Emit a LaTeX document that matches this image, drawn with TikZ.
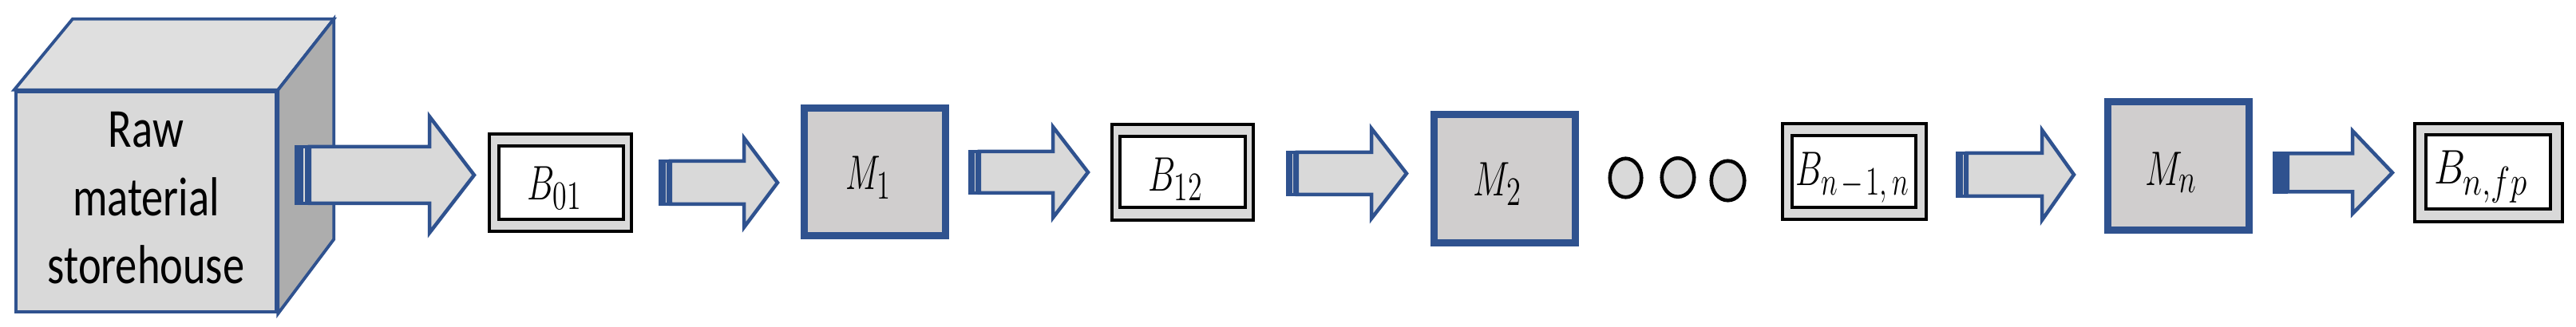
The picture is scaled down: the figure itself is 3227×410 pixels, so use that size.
\documentclass[tikz,border=0pt]{standalone}
\usepackage{fontspec}
\usepackage{graphicx}
\usetikzlibrary{shapes.geometric}
\newfontfamily\calib{Carlito}
\DeclareMathSizes{18.8}{18.8}{14}{11}
\definecolor{shapeblue}{HTML}{2F528F}
\definecolor{arrowfill}{HTML}{D9D9D9}
\definecolor{machfill}{HTML}{D0CECE}
\definecolor{cubefront}{HTML}{D9D9D9}
\definecolor{cubetop}{HTML}{DFDFDF}
\definecolor{cubeside}{HTML}{ADADAD}
\definecolor{bufgray}{HTML}{D9D9D9}
\tikzset{
  cubeface/.style={draw=shapeblue, line width=1.1pt, line join=miter},
  machine/.style={rectangle, draw=shapeblue, fill=machfill, line width=2.56pt, inner sep=0pt},
  bufouter/.style={rectangle, draw=black, fill=bufgray, line width=1.28pt, inner sep=0pt},
  bufinner/.style={rectangle, draw=black, fill=white, line width=1.28pt, inner sep=0pt},
  blockarrow/.style={draw=shapeblue, fill=arrowfill, line width=1.28pt},
  dotstyle/.style={ellipse, draw=black, fill=bufgray, line width=1.3pt, inner sep=0pt},
  lbl/.style={inner sep=0pt, font=\fontsize{18.8}{22}\selectfont},
}
% #1 stripe left, #2 fill start, #3 shaft top, #4 shaft bottom, #5 head base, #6 head top, #7 head bottom, #8 tip x
\newcommand\blockarr[8]{%
  \draw[blockarrow] ({#2-2.25},#3) -- (#5,#3) -- (#5,#6) -- (#8,{(#3+#4)/2}) -- (#5,#7) -- (#5,#4) -- ({#2-2.25},#4) -- cycle;
  \fill[shapeblue] (#1,{#3-2.25}) rectangle ({#2-2.25},{#4+2.25});
}
% #1 x, #2 width, #3 shaft top, #4 shaft bottom
\newcommand\arrgap[4]{\fill[arrowfill] (#1,{#3+2.25}) rectangle ({#1+#2},{#4-2.25});}
\newcommand\mlab[2]{\scalebox{#1}[1]{$#2$}}
\begin{document}
\begin{tikzpicture}[x=0.01cm, y=-0.01cm]
\useasboundingbox (0,0) rectangle (3227,410);

% storehouse cube
\node[rectangle, cubeface, fill=cubefront, inner sep=0pt, minimum width=3.265cm, minimum height=2.765cm]
  (store) at (183,253)
  {\calib\fontsize{19.6}{24.2}\selectfont\scalebox{0.79}[1]{\begin{tabular}{@{}c@{}}Raw\\material\\storehouse\end{tabular}}};
\coordinate (backtl) at (91,23.75);
\coordinate (backtr) at (418.25,23.75);
\coordinate (backbr) at (418.25,300);
\filldraw[cubeface, fill=cubetop] (store.north west) -- (backtl) -- (backtr) -- (store.north east) -- cycle;
\filldraw[cubeface, fill=cubeside] (store.north east) -- (backtr) -- (backbr) -- (store.south east) -- cycle;

% buffers
\node[bufouter, minimum width=1.775cm, minimum height=1.215cm] (b01o) at (702,229) {};
\node[bufinner, minimum width=1.555cm, minimum height=0.915cm] (b01) at (703,229) {};
\node[lbl] (b01l) at (695,236) {\mlab{0.71}{B_{01}}};

\node[bufouter, minimum width=1.765cm, minimum height=1.195cm] (b12o) at (1481.5,216) {};
\node[bufinner, minimum width=1.565cm, minimum height=0.885cm] (b12) at (1481.5,215.5) {};
\node[lbl] (b12l) at (1473,225) {\mlab{0.71}{B_{12}}};

\node[bufouter, minimum width=1.795cm, minimum height=1.195cm] (bn1o) at (2323,215) {};
\node[bufinner, minimum width=1.545cm, minimum height=0.895cm] (bn1) at (2322.5,215) {};
\node[lbl] (bn1l) at (2321,223) {\mlab{0.70}{B_{n\mskip2mu-\mskip2mu1,\mskip3mu n}}};

\node[bufouter, minimum width=1.845cm, minimum height=1.225cm] (bnfpo) at (3117.5,216.5) {};
\node[bufinner, minimum width=1.555cm, minimum height=0.925cm] (bnfp) at (3117,215.5) {};
\node[lbl] (bnfpl) at (3108,222) {\mlab{0.81}{B_{n,fp}}};

% machines
\node[machine, minimum width=1.77cm, minimum height=1.60cm] (m1) at (1096,215.5) {};
\node[lbl] (m1l) at (1088,223) {\mlab{0.68}{M_1}};
\node[machine, minimum width=1.77cm, minimum height=1.61cm] (m2) at (1885,224) {};
\node[lbl] (m2l) at (1876,231) {\mlab{0.72}{M_2}};
\node[machine, minimum width=1.77cm, minimum height=1.61cm] (mn) at (2729,208) {};
\node[lbl] (mnl) at (2720,216) {\mlab{0.73}{M_n}};

% ellipsis dots
\node[dotstyle, minimum width=0.395cm, minimum height=0.485cm] (d1) at (2036.5,223) {};
\node[dotstyle, minimum width=0.405cm, minimum height=0.485cm] (d2) at (2102,222.5) {};
\node[dotstyle, minimum width=0.415cm, minimum height=0.495cm] (d3) at (2164.5,226.5) {};

% block arrows
\blockarr{369}{390}{184}{255}{538}{146}{292}{594}
\arrgap{380}{2}{184}{255}
\blockarr{825}{842}{202}{256}{932}{173}{285}{974}
\arrgap{834}{1.4}{202}{256}
\blockarr{1213}{1229}{190}{242}{1319}{159}{273}{1363}
\arrgap{1221}{1.4}{190}{242}
\blockarr{1611}{1627}{191}{244}{1718}{161}{274}{1762}
\arrgap{1619}{1.4}{191}{244}
\blockarr{2450}{2466}{192}{246}{2558}{163}{276}{2598}
\arrgap{2459}{1.4}{192}{246}
\blockarr{2847}{2868}{192.5}{240.5}{2947}{164}{268}{2997}
\end{tikzpicture}
\end{document}
